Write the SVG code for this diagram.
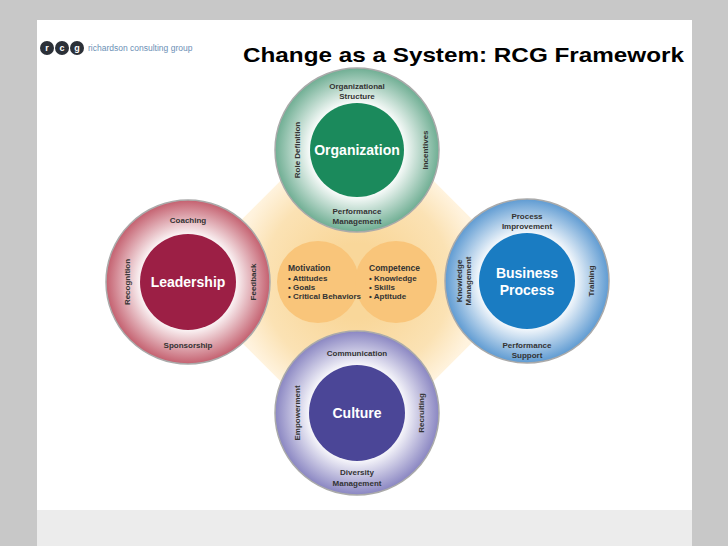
<svg xmlns="http://www.w3.org/2000/svg" width="728" height="546" viewBox="0 0 728 546">
<defs>
<radialGradient id="bg" cx="0.5" cy="0.5" r="0.5"><stop offset="0.3" stop-color="#f9d79a"/><stop offset="0.75" stop-color="#fbe2b4"/><stop offset="1" stop-color="#fff3de"/></radialGradient>
<radialGradient id="gG"><stop offset="0.55" stop-color="#ffffff"/><stop offset="1" stop-color="#6fae93"/></radialGradient>
<radialGradient id="gR"><stop offset="0.55" stop-color="#ffffff"/><stop offset="1" stop-color="#c4606f"/></radialGradient>
<radialGradient id="gB"><stop offset="0.55" stop-color="#ffffff"/><stop offset="1" stop-color="#5f9bd2"/></radialGradient>
<radialGradient id="gP"><stop offset="0.55" stop-color="#ffffff"/><stop offset="1" stop-color="#8a86c2"/></radialGradient>
</defs>
<style>
text{font-family:"Liberation Sans",Arial,sans-serif;font-weight:bold}
.s{font-size:8px;fill:#333}
.m{font-size:8px;fill:#333}
.big{font-size:14px;fill:#fff}
.ring{stroke:#aaa;stroke-width:1.5}
</style>
<rect width="728" height="546" fill="#c8c8c8"/>
<rect x="37" y="20" width="655" height="490" fill="#fff"/>
<rect x="37" y="510" width="655" height="36" fill="#ececec"/>
<g id="logo">
<circle cx="47" cy="48" r="7" fill="#2b3038"/><circle cx="62" cy="48" r="7" fill="#2b3038"/><circle cx="77" cy="48" r="7" fill="#2b3038"/>
<text x="47" y="51" font-size="9" fill="#fff" text-anchor="middle" font-weight="normal">r</text>
<text x="62" y="51" font-size="9" fill="#fff" text-anchor="middle" font-weight="normal">c</text>
<text x="77" y="51" font-size="9" fill="#fff" text-anchor="middle" font-weight="normal">g</text>
<text x="88" y="51" font-size="8.5" fill="#6b8fb5" style="font-weight:normal">richardson consulting group</text>
</g>
<text x="243" y="62" font-size="21" fill="#000" textLength="441" lengthAdjust="spacingAndGlyphs">Change as a System: RCG Framework</text>
<g id="background"><rect x="232" y="156" width="250" height="250" rx="70" transform="rotate(45 357 281)" fill="url(#bg)"/></g>
<g id="center">
<circle cx="318" cy="282" r="41" fill="#f9c57a"/><circle cx="396" cy="282" r="41" fill="#f9c57a"/>
<text x="288" y="271" font-size="8.5" fill="#333">Motivation</text>
<text x="288" y="281" class="m">• Attitudes</text><text x="288" y="290" class="m">• Goals</text><text x="288" y="299" class="m">• Critical Behaviors</text>
<text x="369" y="271" font-size="8.5" fill="#333">Competence</text>
<text x="369" y="281" class="m">• Knowledge</text><text x="369" y="290" class="m">• Skills</text><text x="369" y="299" class="m">• Aptitude</text>
</g>
<g id="organization">
<circle cx="357" cy="150" r="82" fill="url(#gG)" class="ring"/>
<circle cx="357" cy="150" r="47" fill="#1b8a5c"/>
<text x="357" y="155" class="big" text-anchor="middle">Organization</text>
<text x="357" y="89" class="s" text-anchor="middle">Organizational</text><text x="357" y="99" class="s" text-anchor="middle">Structure</text>
<text x="357" y="214" class="s" text-anchor="middle">Performance</text><text x="357" y="224" class="s" text-anchor="middle">Management</text>
<text transform="translate(300 150) rotate(-90)" class="s" text-anchor="middle">Role Definition</text>
<text transform="translate(428 150) rotate(-90)" class="s" text-anchor="middle">Incentives</text>
</g>
<g id="leadership">
<circle cx="188" cy="282" r="82" fill="url(#gR)" class="ring"/>
<circle cx="188" cy="282" r="48" fill="#9c1f45"/>
<text x="188" y="287" class="big" text-anchor="middle">Leadership</text>
<text x="188" y="223" class="s" text-anchor="middle">Coaching</text>
<text x="188" y="348" class="s" text-anchor="middle">Sponsorship</text>
<text transform="translate(130 282) rotate(-90)" class="s" text-anchor="middle">Recognition</text>
<text transform="translate(256 282) rotate(-90)" class="s" text-anchor="middle">Feedback</text>
</g>
<g id="business">
<circle cx="527" cy="281" r="82" fill="url(#gB)" class="ring"/>
<circle cx="527" cy="281" r="48" fill="#1a7cc2"/>
<text x="527" y="278" class="big" text-anchor="middle">Business</text>
<text x="527" y="295" class="big" text-anchor="middle">Process</text>
<text x="527" y="219" class="s" text-anchor="middle">Process</text><text x="527" y="229" class="s" text-anchor="middle">Improvement</text>
<text x="527" y="348" class="s" text-anchor="middle">Performance</text><text x="527" y="358" class="s" text-anchor="middle">Support</text>
<text transform="translate(462 281) rotate(-90)" class="s" text-anchor="middle">Knowledge</text>
<text transform="translate(471 281) rotate(-90)" class="s" text-anchor="middle">Management</text>
<text transform="translate(594 281) rotate(-90)" class="s" text-anchor="middle">Training</text>
</g>
<g id="culture">
<circle cx="357" cy="413" r="82" fill="url(#gP)" class="ring"/>
<circle cx="357" cy="413" r="48" fill="#4b4697"/>
<text x="357" y="418" class="big" text-anchor="middle">Culture</text>
<text x="357" y="356" class="s" text-anchor="middle">Communication</text>
<text x="357" y="475" class="s" text-anchor="middle">Diversity</text><text x="357" y="486" class="s" text-anchor="middle">Management</text>
<text transform="translate(300 413) rotate(-90)" class="s" text-anchor="middle">Empowerment</text>
<text transform="translate(424 413) rotate(-90)" class="s" text-anchor="middle">Recruiting</text>
</g>
<g id="connectors"/>
</svg>
